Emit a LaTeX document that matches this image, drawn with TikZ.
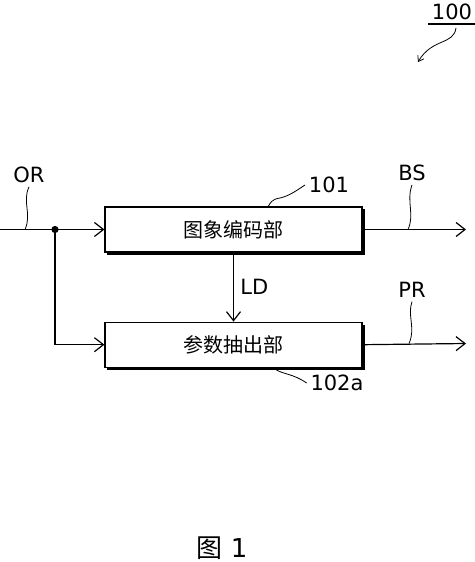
\documentclass[tikz,border=0pt]{standalone}
\usepackage{fontspec}
\setmainfont{DejaVu Sans}
\newfontfamily\cjk{Noto Sans CJK SC}
\usetikzlibrary{positioning,arrows.meta,calc}

\begin{document}
\begin{tikzpicture}[x=1pt, y=-1pt, >={Straight Barb[length=9pt,width=14pt]}, line width=1.2pt, font=\fontsize{21}{23}\selectfont]
		\tikzstyle{block}=[draw, line width=1.2pt, minimum width=257pt, minimum height=45pt, inner sep=0pt, font=\cjk\fontsize{20}{22}\selectfont]
		\tikzstyle{leader}=[line width=0.8pt]
		\useasboundingbox (0,0) rectangle (474,562);
		\node[block]    (enc)   at (233.5,229.5)    {图象编码部};
		\node[block]    (par)[below=69pt of enc]    {参数抽出部};
		% shadows on right and bottom
		\foreach \b in {enc,par}
			\draw[line width=2.6pt] ($(\b.north east)+(1.2,3)$) -- ($(\b.south east)+(1.2,1.2)$) -- ($(\b.south west)+(3,1.2)$);
		\coordinate (in)    at (0,229.5);
		\coordinate (split) at (55,229.5);
		\coordinate (bs)    at (466,229.5);
		\coordinate (pr)    at (466,343.5);
		\fill (split) circle (3.6pt);
		\draw (in) -- (split);
		\draw[->] (split) -- (enc.west);
		\draw[->] (split) |- (par.west);
		\draw[->] (enc.east) -- (bs);
		\draw[->] (par.east) -- (pr);
		\draw[->] (enc.south) -- node[right=3pt]{LD} (par.north);
		% labels with leaders
		\node (or)   at (29,175)  {OR};
		\node (bsl)  at (412,173) {BS};
		\node (prl)  at (412,290) {PR};
		\node (n101) at (329,185) {101};
		\node (n102) at (337,383) {102a};
		\draw[leader] (or.south) .. controls (22,202) and (32,214) .. (25,229.5);
		\draw[leader] (bsl.south) .. controls (406,202) and (415,214) .. (408,229.5);
		\draw[leader] (prl.south) .. controls (407,316) and (416,328) .. (409,343.5);
		\draw[leader] (n101.west) .. controls (300,188) and (290,196) .. (280,198) .. controls (272,199) and (270,203) .. (268,207);
		\draw[leader] ($(par.south)+(41,1)$) .. controls (284,375) and (292,373) .. (n102.west);
		\node (top) at (452,12) {100};
		\draw[line width=1.4pt] (top.south west) -- (top.south east);
		\draw[leader, -{Straight Barb[length=5pt,width=7pt]}] ($(top.south)+(4,4)$) .. controls (454,45) and (432,38) .. (418,62);
		\node (fig) at (222,548) {\fontsize{26}{28}\selectfont{\cjk 图} 1};
	\end{tikzpicture}
\end{document}
